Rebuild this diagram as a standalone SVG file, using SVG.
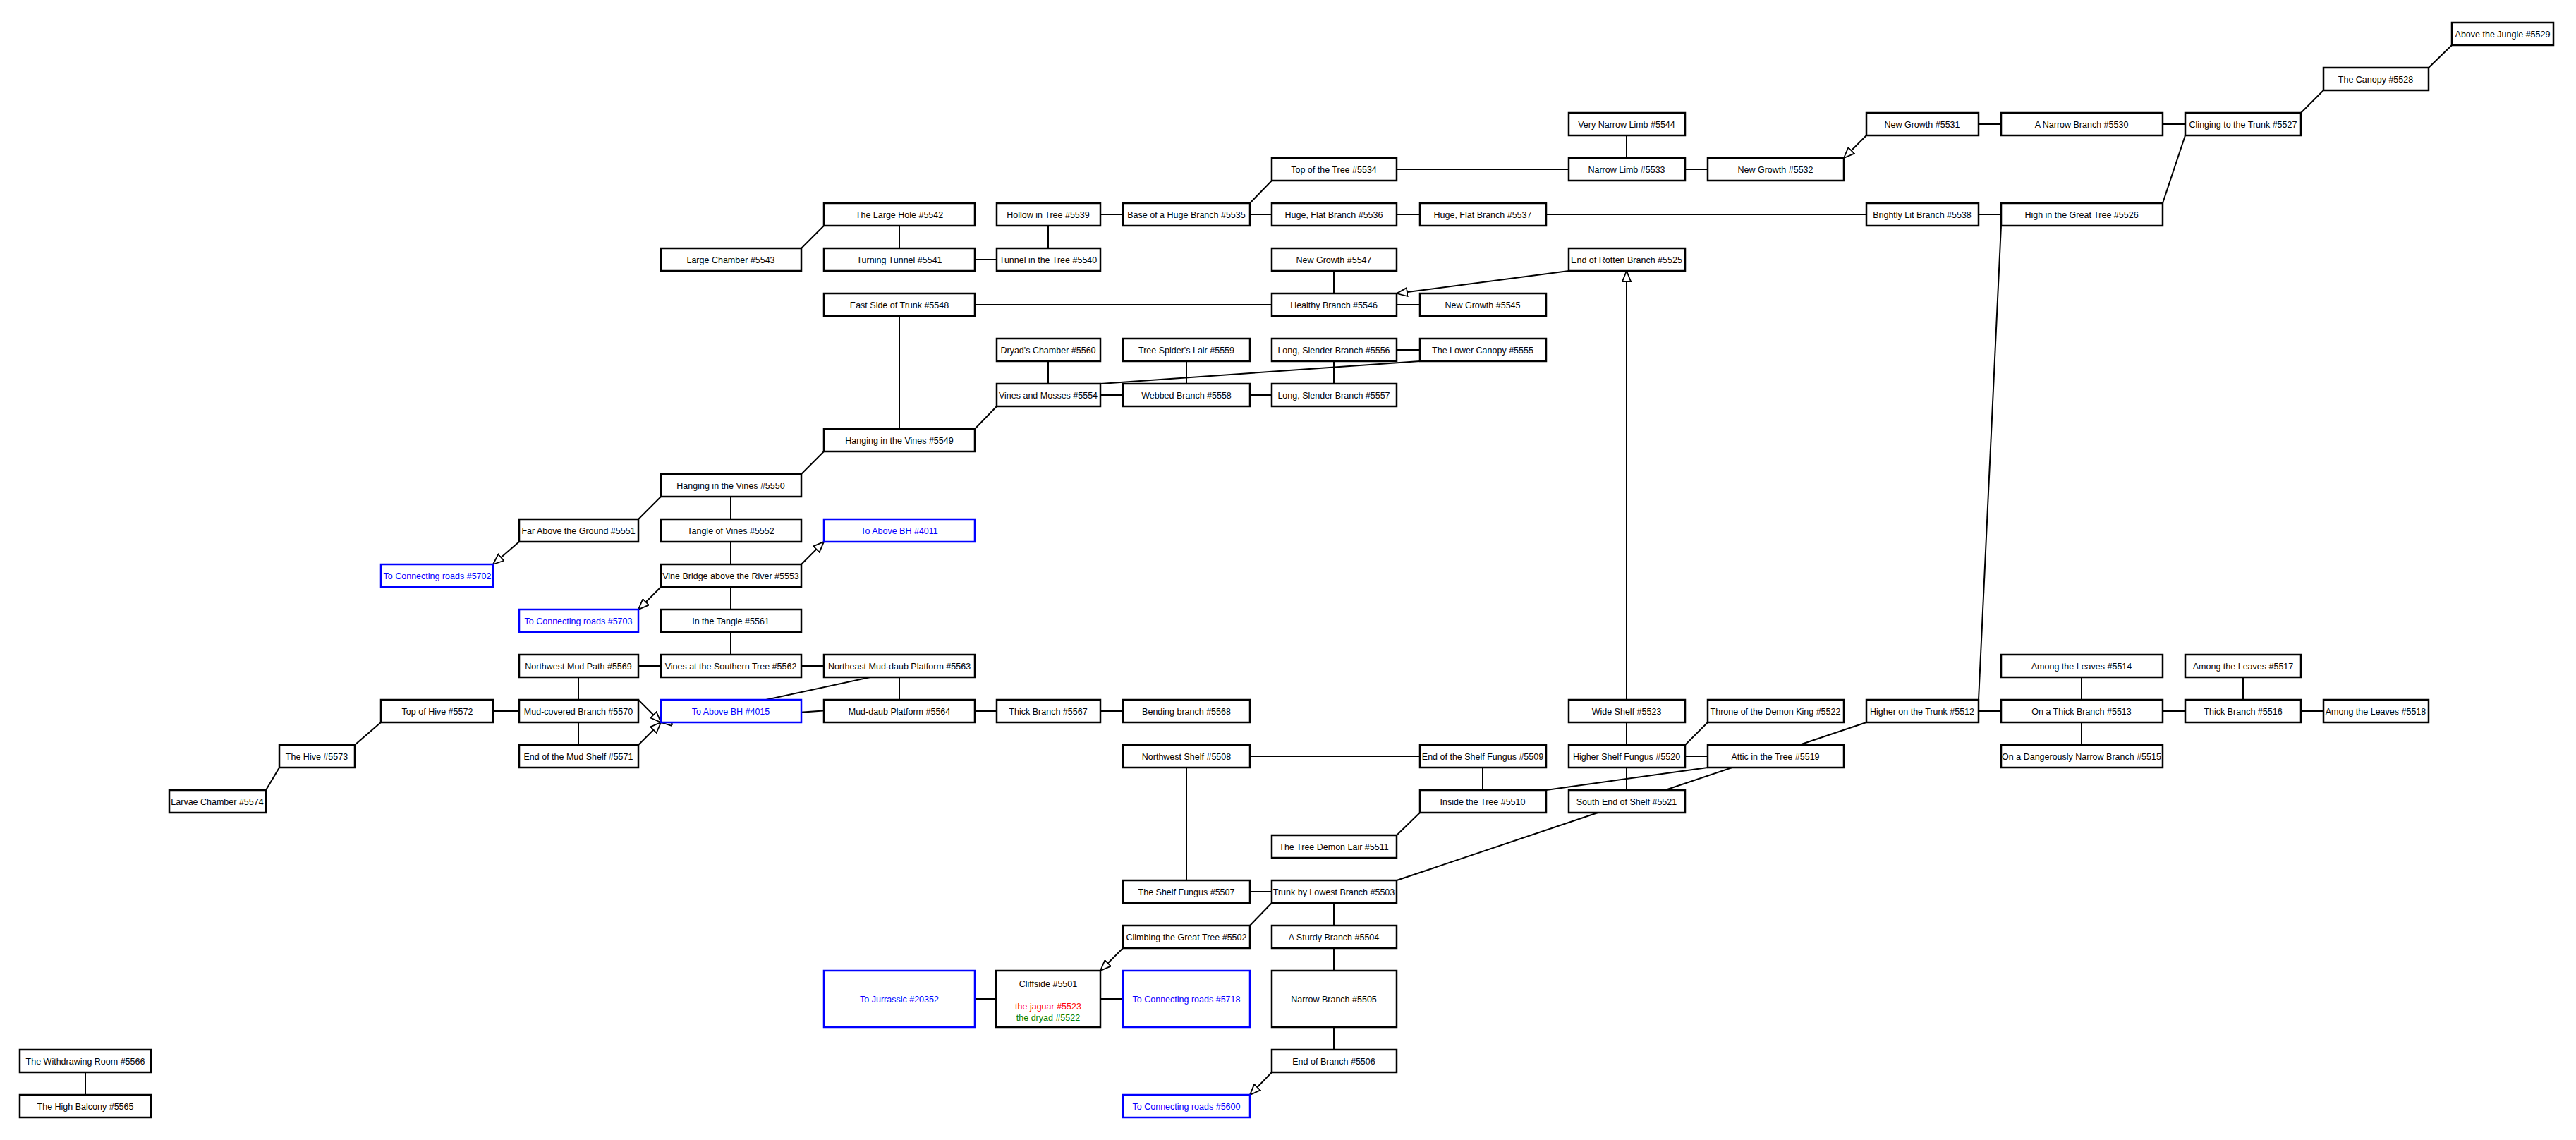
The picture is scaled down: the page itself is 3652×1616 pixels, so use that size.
<svg xmlns="http://www.w3.org/2000/svg" width="3652" height="1616" viewBox="0 0 3652 1616">
<style>
rect{fill:#fff;stroke:#000;stroke-width:2.5}
rect.b{stroke:#00f}
text{font-family:"Liberation Sans",Arial,sans-serif;font-size:12.5px;text-anchor:middle;fill:#000}
text.b{fill:#00f}
#edges line{stroke:#000;stroke-width:2}
#edges line.a{marker-end:url(#ar)}
</style>
<defs>
<marker id="ar" markerWidth="18" markerHeight="14" refX="16" refY="7" orient="auto" markerUnits="userSpaceOnUse"><path d="M1,1 L16,7 L1,13 z" fill="#fff" stroke="#000" stroke-width="1.8"/></marker>
</defs>
<rect x="0" y="0" width="3652" height="1616" style="fill:#fff;stroke:none"/>
<g id="edges">
<line x1="3443" y1="96" x2="3476" y2="64"/>
<line x1="3262" y1="160" x2="3294" y2="128"/>
<line x1="2805" y1="176" x2="2837" y2="176"/>
<line x1="3066" y1="176" x2="3098" y2="176"/>
<line class="a" x1="2646" y1="192" x2="2614" y2="224"/>
<line x1="2306" y1="192" x2="2306" y2="224"/>
<line x1="2389" y1="240" x2="2421" y2="240"/>
<line x1="1980" y1="240" x2="2224" y2="240"/>
<line x1="1772" y1="288" x2="1803" y2="256"/>
<line x1="3098" y1="192" x2="3066" y2="288"/>
<line x1="1560" y1="304" x2="1592" y2="304"/>
<line x1="1772" y1="304" x2="1803" y2="304"/>
<line x1="1980" y1="304" x2="2013" y2="304"/>
<line x1="2192" y1="304" x2="2646" y2="304"/>
<line x1="2805" y1="304" x2="2837" y2="304"/>
<line x1="2837" y1="320" x2="2805" y2="992"/>
<line x1="1168" y1="320" x2="1136" y2="352"/>
<line x1="1275" y1="320" x2="1275" y2="352"/>
<line x1="1382" y1="368" x2="1413" y2="368"/>
<line x1="1486" y1="320" x2="1486" y2="352"/>
<line x1="1891" y1="384" x2="1891" y2="416"/>
<line class="a" x1="2224" y1="384" x2="1980" y2="416"/>
<line class="a" x1="2306" y1="992" x2="2306" y2="384"/>
<line x1="1980" y1="432" x2="2013" y2="432"/>
<line x1="1382" y1="432" x2="1803" y2="432"/>
<line x1="1275" y1="448" x2="1275" y2="608"/>
<line x1="1486" y1="512" x2="1486" y2="544"/>
<line x1="1682" y1="512" x2="1682" y2="544"/>
<line x1="1891" y1="512" x2="1891" y2="544"/>
<line x1="1980" y1="496" x2="2013" y2="496"/>
<line x1="1560" y1="544" x2="2013" y2="512"/>
<line x1="1560" y1="560" x2="1592" y2="560"/>
<line x1="1772" y1="560" x2="1803" y2="560"/>
<line x1="1382" y1="608" x2="1413" y2="576"/>
<line x1="1168" y1="640" x2="1136" y2="672"/>
<line x1="937" y1="704" x2="905" y2="736"/>
<line x1="1036" y1="704" x2="1036" y2="736"/>
<line class="a" x1="736" y1="768" x2="699" y2="800"/>
<line x1="1036" y1="768" x2="1036" y2="800"/>
<line class="a" x1="1136" y1="800" x2="1168" y2="768"/>
<line class="a" x1="937" y1="832" x2="905" y2="864"/>
<line x1="1036" y1="832" x2="1036" y2="864"/>
<line x1="1036" y1="896" x2="1036" y2="928"/>
<line x1="905" y1="944" x2="937" y2="944"/>
<line x1="1136" y1="944" x2="1168" y2="944"/>
<line x1="820" y1="960" x2="820" y2="992"/>
<line x1="1275" y1="960" x2="1275" y2="992"/>
<line class="a" x1="905" y1="992" x2="937" y2="1024"/>
<line class="a" x1="905" y1="1056" x2="937" y2="1024"/>
<line class="a" x1="1382" y1="928" x2="937" y2="1024"/>
<line class="a" x1="1382" y1="992" x2="937" y2="1024"/>
<line x1="699" y1="1008" x2="736" y2="1008"/>
<line x1="820" y1="1024" x2="820" y2="1056"/>
<line x1="540" y1="1024" x2="503" y2="1056"/>
<line x1="396" y1="1088" x2="377" y2="1120"/>
<line x1="1382" y1="1008" x2="1413" y2="1008"/>
<line x1="1560" y1="1008" x2="1592" y2="1008"/>
<line x1="1772" y1="1072" x2="2013" y2="1072"/>
<line x1="1682" y1="1088" x2="1682" y2="1248"/>
<line x1="2102" y1="1088" x2="2102" y2="1120"/>
<line x1="2306" y1="1024" x2="2306" y2="1056"/>
<line x1="2306" y1="1088" x2="2306" y2="1120"/>
<line x1="2389" y1="1072" x2="2421" y2="1072"/>
<line x1="2389" y1="1056" x2="2421" y2="1024"/>
<line x1="2192" y1="1120" x2="2421" y2="1088"/>
<line x1="1980" y1="1184" x2="2013" y2="1152"/>
<line x1="1980" y1="1248" x2="2646" y2="1024"/>
<line x1="2805" y1="1008" x2="2837" y2="1008"/>
<line x1="3066" y1="1008" x2="3098" y2="1008"/>
<line x1="3262" y1="1008" x2="3294" y2="1008"/>
<line x1="2951" y1="960" x2="2951" y2="992"/>
<line x1="3180" y1="960" x2="3180" y2="992"/>
<line x1="2951" y1="1024" x2="2951" y2="1056"/>
<line x1="1772" y1="1264" x2="1803" y2="1264"/>
<line x1="1803" y1="1280" x2="1772" y2="1312"/>
<line x1="1891" y1="1280" x2="1891" y2="1312"/>
<line x1="1891" y1="1344" x2="1891" y2="1376"/>
<line x1="1891" y1="1456" x2="1891" y2="1488"/>
<line class="a" x1="1592" y1="1344" x2="1560" y2="1376"/>
<line class="a" x1="1803" y1="1520" x2="1772" y2="1552"/>
<line x1="1382" y1="1416" x2="1412" y2="1416"/>
<line x1="1560" y1="1416" x2="1592" y2="1416"/>
<line x1="121" y1="1520" x2="121" y2="1552"/>
</g>
<g id="n5529"><rect x="3476" y="32" width="144" height="32"/><text x="3548" y="52.5">Above the Jungle #5529</text></g>
<g id="n5528"><rect x="3294" y="96" width="149" height="32"/><text x="3368" y="116.5">The Canopy #5528</text></g>
<g id="n5544"><rect x="2224" y="160" width="165" height="32"/><text x="2306" y="180.5">Very Narrow Limb #5544</text></g>
<g id="n5531"><rect x="2646" y="160" width="159" height="32"/><text x="2725" y="180.5">New Growth #5531</text></g>
<g id="n5530"><rect x="2837" y="160" width="229" height="32"/><text x="2951" y="180.5">A Narrow Branch #5530</text></g>
<g id="n5527"><rect x="3098" y="160" width="164" height="32"/><text x="3180" y="180.5">Clinging to the Trunk #5527</text></g>
<g id="n5534"><rect x="1803" y="224" width="177" height="32"/><text x="1891" y="244.5">Top of the Tree #5534</text></g>
<g id="n5533"><rect x="2224" y="224" width="165" height="32"/><text x="2306" y="244.5">Narrow Limb #5533</text></g>
<g id="n5532"><rect x="2421" y="224" width="193" height="32"/><text x="2517" y="244.5">New Growth #5532</text></g>
<g id="n5542"><rect x="1168" y="288" width="214" height="32"/><text x="1275" y="308.5">The Large Hole #5542</text></g>
<g id="n5539"><rect x="1413" y="288" width="147" height="32"/><text x="1486" y="308.5">Hollow in Tree #5539</text></g>
<g id="n5535"><rect x="1592" y="288" width="180" height="32"/><text x="1682" y="308.5">Base of a Huge Branch #5535</text></g>
<g id="n5536"><rect x="1803" y="288" width="177" height="32"/><text x="1891" y="308.5">Huge, Flat Branch #5536</text></g>
<g id="n5537"><rect x="2013" y="288" width="179" height="32"/><text x="2102" y="308.5">Huge, Flat Branch #5537</text></g>
<g id="n5538"><rect x="2646" y="288" width="159" height="32"/><text x="2725" y="308.5">Brightly Lit Branch #5538</text></g>
<g id="n5526"><rect x="2837" y="288" width="229" height="32"/><text x="2951" y="308.5">High in the Great Tree #5526</text></g>
<g id="n5543"><rect x="937" y="352" width="199" height="32"/><text x="1036" y="372.5">Large Chamber #5543</text></g>
<g id="n5541"><rect x="1168" y="352" width="214" height="32"/><text x="1275" y="372.5">Turning Tunnel #5541</text></g>
<g id="n5540"><rect x="1413" y="352" width="147" height="32"/><text x="1486" y="372.5">Tunnel in the Tree #5540</text></g>
<g id="n5547"><rect x="1803" y="352" width="177" height="32"/><text x="1891" y="372.5">New Growth #5547</text></g>
<g id="n5525"><rect x="2224" y="352" width="165" height="32"/><text x="2306" y="372.5">End of Rotten Branch #5525</text></g>
<g id="n5548"><rect x="1168" y="416" width="214" height="32"/><text x="1275" y="436.5">East Side of Trunk #5548</text></g>
<g id="n5546"><rect x="1803" y="416" width="177" height="32"/><text x="1891" y="436.5">Healthy Branch #5546</text></g>
<g id="n5545"><rect x="2013" y="416" width="179" height="32"/><text x="2102" y="436.5">New Growth #5545</text></g>
<g id="n5560"><rect x="1413" y="480" width="147" height="32"/><text x="1486" y="500.5">Dryad's Chamber #5560</text></g>
<g id="n5559"><rect x="1592" y="480" width="180" height="32"/><text x="1682" y="500.5">Tree Spider's Lair #5559</text></g>
<g id="n5556"><rect x="1803" y="480" width="177" height="32"/><text x="1891" y="500.5">Long, Slender Branch #5556</text></g>
<g id="n5555"><rect x="2013" y="480" width="179" height="32"/><text x="2102" y="500.5">The Lower Canopy #5555</text></g>
<g id="n5554"><rect x="1413" y="544" width="147" height="32"/><text x="1486" y="564.5">Vines and Mosses #5554</text></g>
<g id="n5558"><rect x="1592" y="544" width="180" height="32"/><text x="1682" y="564.5">Webbed Branch #5558</text></g>
<g id="n5557"><rect x="1803" y="544" width="177" height="32"/><text x="1891" y="564.5">Long, Slender Branch #5557</text></g>
<g id="n5549"><rect x="1168" y="608" width="214" height="32"/><text x="1275" y="628.5">Hanging in the Vines #5549</text></g>
<g id="n5550"><rect x="937" y="672" width="199" height="32"/><text x="1036" y="692.5">Hanging in the Vines #5550</text></g>
<g id="n5551"><rect x="736" y="736" width="169" height="32"/><text x="820" y="756.5">Far Above the Ground #5551</text></g>
<g id="n5552"><rect x="937" y="736" width="199" height="32"/><text x="1036" y="756.5">Tangle of Vines #5552</text></g>
<g id="n4011"><rect class="b" x="1168" y="736" width="214" height="32"/><text class="b" x="1275" y="756.5">To Above BH #4011</text></g>
<g id="n5702"><rect class="b" x="540" y="800" width="159" height="32"/><text class="b" x="620" y="820.5">To Connecting roads #5702</text></g>
<g id="n5553"><rect x="937" y="800" width="199" height="32"/><text x="1036" y="820.5">Vine Bridge above the River #5553</text></g>
<g id="n5703"><rect class="b" x="736" y="864" width="169" height="32"/><text class="b" x="820" y="884.5">To Connecting roads #5703</text></g>
<g id="n5561"><rect x="937" y="864" width="199" height="32"/><text x="1036" y="884.5">In the Tangle #5561</text></g>
<g id="n5569"><rect x="736" y="928" width="169" height="32"/><text x="820" y="948.5">Northwest Mud Path #5569</text></g>
<g id="n5562"><rect x="937" y="928" width="199" height="32"/><text x="1036" y="948.5">Vines at the Southern Tree #5562</text></g>
<g id="n5563"><rect x="1168" y="928" width="214" height="32"/><text x="1275" y="948.5">Northeast Mud-daub Platform #5563</text></g>
<g id="n5514"><rect x="2837" y="928" width="229" height="32"/><text x="2951" y="948.5">Among the Leaves #5514</text></g>
<g id="n5517"><rect x="3098" y="928" width="164" height="32"/><text x="3180" y="948.5">Among the Leaves #5517</text></g>
<g id="n5572"><rect x="540" y="992" width="159" height="32"/><text x="620" y="1012.5">Top of Hive #5572</text></g>
<g id="n5570"><rect x="736" y="992" width="169" height="32"/><text x="820" y="1012.5">Mud-covered Branch #5570</text></g>
<g id="n4015"><rect class="b" x="937" y="992" width="199" height="32"/><text class="b" x="1036" y="1012.5">To Above BH #4015</text></g>
<g id="n5564"><rect x="1168" y="992" width="214" height="32"/><text x="1275" y="1012.5">Mud-daub Platform #5564</text></g>
<g id="n5567"><rect x="1413" y="992" width="147" height="32"/><text x="1486" y="1012.5">Thick Branch #5567</text></g>
<g id="n5568"><rect x="1592" y="992" width="180" height="32"/><text x="1682" y="1012.5">Bending branch #5568</text></g>
<g id="n5523"><rect x="2224" y="992" width="165" height="32"/><text x="2306" y="1012.5">Wide Shelf #5523</text></g>
<g id="n5522"><rect x="2421" y="992" width="193" height="32"/><text x="2517" y="1012.5">Throne of the Demon King #5522</text></g>
<g id="n5512"><rect x="2646" y="992" width="159" height="32"/><text x="2725" y="1012.5">Higher on the Trunk #5512</text></g>
<g id="n5513"><rect x="2837" y="992" width="229" height="32"/><text x="2951" y="1012.5">On a Thick Branch #5513</text></g>
<g id="n5516"><rect x="3098" y="992" width="164" height="32"/><text x="3180" y="1012.5">Thick Branch #5516</text></g>
<g id="n5518"><rect x="3294" y="992" width="149" height="32"/><text x="3368" y="1012.5">Among the Leaves #5518</text></g>
<g id="n5573"><rect x="396" y="1056" width="107" height="32"/><text x="449" y="1076.5">The Hive #5573</text></g>
<g id="n5571"><rect x="736" y="1056" width="169" height="32"/><text x="820" y="1076.5">End of the Mud Shelf #5571</text></g>
<g id="n5508"><rect x="1592" y="1056" width="180" height="32"/><text x="1682" y="1076.5">Northwest Shelf #5508</text></g>
<g id="n5509"><rect x="2013" y="1056" width="179" height="32"/><text x="2102" y="1076.5">End of the Shelf Fungus #5509</text></g>
<g id="n5520"><rect x="2224" y="1056" width="165" height="32"/><text x="2306" y="1076.5">Higher Shelf Fungus #5520</text></g>
<g id="n5519"><rect x="2421" y="1056" width="193" height="32"/><text x="2517" y="1076.5">Attic in the Tree #5519</text></g>
<g id="n5515"><rect x="2837" y="1056" width="229" height="32"/><text x="2951" y="1076.5">On a Dangerously Narrow Branch #5515</text></g>
<g id="n5574"><rect x="240" y="1120" width="137" height="32"/><text x="308" y="1140.5">Larvae Chamber #5574</text></g>
<g id="n5510"><rect x="2013" y="1120" width="179" height="32"/><text x="2102" y="1140.5">Inside the Tree #5510</text></g>
<g id="n5521"><rect x="2224" y="1120" width="165" height="32"/><text x="2306" y="1140.5">South End of Shelf #5521</text></g>
<g id="n5511"><rect x="1803" y="1184" width="177" height="32"/><text x="1891" y="1204.5">The Tree Demon Lair #5511</text></g>
<g id="n5507"><rect x="1592" y="1248" width="180" height="32"/><text x="1682" y="1268.5">The Shelf Fungus #5507</text></g>
<g id="n5503"><rect x="1803" y="1248" width="177" height="32"/><text x="1891" y="1268.5">Trunk by Lowest Branch #5503</text></g>
<g id="n5502"><rect x="1592" y="1312" width="180" height="32"/><text x="1682" y="1332.5">Climbing the Great Tree #5502</text></g>
<g id="n5504"><rect x="1803" y="1312" width="177" height="32"/><text x="1891" y="1332.5">A Sturdy Branch #5504</text></g>
<g id="n20352"><rect class="b" x="1168" y="1376" width="214" height="80"/><text class="b" x="1275" y="1420.5">To Jurrassic #20352</text></g>
<g id="n5501"><rect x="1412" y="1376" width="148" height="80"/><text x="1486" y="1398.5">Cliffside #5501</text><text x="1486" y="1430.5" style="fill:#f00">the jaguar #5523</text><text x="1486" y="1446.5" style="fill:#008000">the dryad #5522</text></g>
<g id="n5718"><rect class="b" x="1592" y="1376" width="180" height="80"/><text class="b" x="1682" y="1420.5">To Connecting roads #5718</text></g>
<g id="n5505"><rect x="1803" y="1376" width="177" height="80"/><text x="1891" y="1420.5">Narrow Branch #5505</text></g>
<g id="n5506"><rect x="1803" y="1488" width="177" height="32"/><text x="1891" y="1508.5">End of Branch #5506</text></g>
<g id="n5566"><rect x="28" y="1488" width="186" height="32"/><text x="121" y="1508.5">The Withdrawing Room #5566</text></g>
<g id="n5600"><rect class="b" x="1592" y="1552" width="180" height="32"/><text class="b" x="1682" y="1572.5">To Connecting roads #5600</text></g>
<g id="n5565"><rect x="28" y="1552" width="186" height="32"/><text x="121" y="1572.5">The High Balcony #5565</text></g>
</svg>
